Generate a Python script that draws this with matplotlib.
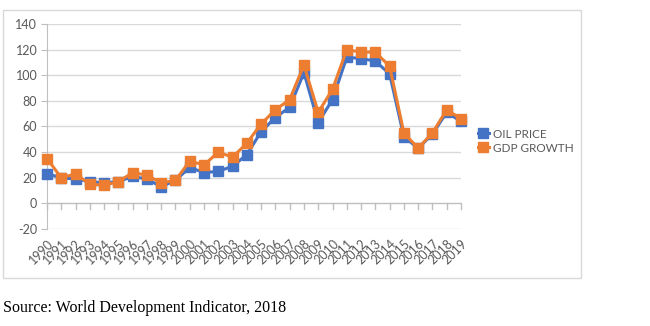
import matplotlib
matplotlib.use('Agg')
import matplotlib.pyplot as plt
from matplotlib.patches import Rectangle

years = [str(y) for y in range(1990, 2020)]
oil_price = [23, 20, 19, 17, 16, 17, 21, 19, 13, 18,
             28, 24, 25, 29, 38, 56, 67, 75, 102, 63,
             81, 114, 113, 111, 101, 52, 43, 54, 71, 64]
gdp_growth = [35, 20, 23, 15, 14, 17, 24, 22, 16, 18,
              33, 30, 40, 36, 47, 62, 73, 81, 108, 71,
              89, 120, 118, 118, 107, 55, 43, 55, 73, 66]
y_ticks = [-20, 0, 20, 40, 60, 80, 100, 120, 140]

blue = '#4472C4'
orange = '#ED7D31'
grey = '#595959'
grid = '#D9D9D9'

plt.rcParams['font.family'] = ['Lato', 'DejaVu Sans']

fig = plt.figure(figsize=(6.5, 3.26), dpi=100)
ax = fig.add_axes([0.0723, 0.2975, 0.6369, 0.629])

x = list(range(len(years)))
ax.plot(x, oil_price, color=blue, lw=2.2, marker='s', ms=6.5, label='OIL PRICE',
        zorder=3, clip_on=False)
ax.plot(x, gdp_growth, color=orange, lw=2.2, marker='s', ms=6.5, label='GDP GROWTH',
        zorder=4, clip_on=False)

ax.set_xlim(0, len(years) - 1)
ax.set_ylim(-20, 140)
ax.set_yticks(y_ticks)
ax.set_yticklabels([str(v) for v in y_ticks], fontsize=9, color=grey)
for v in y_ticks:
    if v != 0:
        ax.axhline(v, color=grid, lw=1, zorder=0)
# category axis sits on zero, with its ticks hanging below
ax.axhline(0, color='#BFBFBF', lw=1, zorder=1)
for i in x:
    ax.plot([i, i], [0, -4], color='#BFBFBF', lw=1, zorder=1, clip_on=False)

ax.set_xticks(x)
ax.set_xticklabels(years, rotation=45, ha='right', va='top', rotation_mode='anchor',
                   fontsize=9, color=grey)
ax.tick_params(axis='x', length=0, pad=6)
ax.tick_params(axis='y', length=4, color='#BFBFBF', pad=3)
for s in ['top', 'right', 'bottom']:
    ax.spines[s].set_visible(False)
ax.spines['left'].set_color('#BFBFBF')

leg = fig.legend(loc='upper left', bbox_to_anchor=(0.728, 0.62), frameon=False,
                 fontsize=8.5, handlelength=0.9, handletextpad=0.4, labelspacing=0.25,
                 borderaxespad=0)
for t in leg.get_texts():
    t.set_color(grey)

fig.patches.append(Rectangle((3 / 650, 1 - 278 / 326), 578 / 650, 268 / 326,
                             transform=fig.transFigure, fill=False,
                             edgecolor='#D9D9D9', lw=1))

fig.text(3 / 650, 1 - 312 / 326, 'Source: World Development Indicator, 2018',
         family='Liberation Serif', fontsize=11.5, color='black', va='baseline')

fig.savefig('out.png', dpi=100)
